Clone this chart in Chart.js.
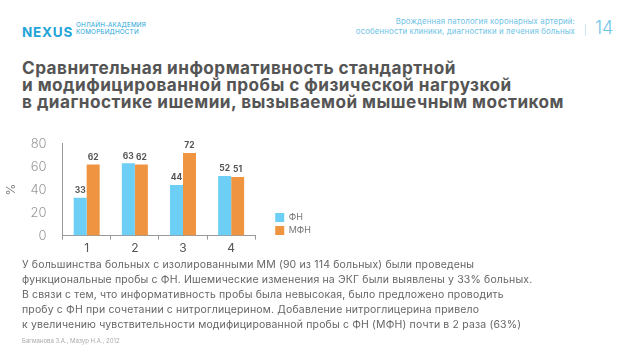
<!DOCTYPE html>
<html>
<head>
<meta charset="utf-8">
<script src="https://cdn.jsdelivr.net/npm/chart.js@4"></script>
<style>
  body { margin: 0; width: 640px; height: 360px; background: #fff; position: relative; overflow: hidden; font-family: Inter, "Open Sans", sans-serif; }
  .logo { position: absolute; left: 22px; top: 24px; color: #23a4d8; font: 700 13.5px Inter, sans-serif; letter-spacing: 0.8px; }
  .logo-sub { position: absolute; left: 76px; top: 22px; color: #23a4d8; font: 400 6.3px/7px Inter, sans-serif; letter-spacing: 0.2px; }
  .topic { position: absolute; right: 65px; top: 16px; text-align: right; color: #6fc3e6; font: 400 7.8px/10px Inter, sans-serif; letter-spacing: 0.15px; }
  .sep { position: absolute; left: 585px; top: 24px; width: 1px; height: 12px; background: #cde9f5; }
  .page { position: absolute; left: 595px; top: 17px; color: #6fc3e6; font: 300 18px Inter, sans-serif; }
  h1 { position: absolute; left: 22px; top: 59px; margin: 0; color: #555; font: 700 17.2px/17px Inter, sans-serif; letter-spacing: 0.45px; }
  .body { position: absolute; left: 22px; top: 257px; color: #666; font: 400 10.5px/15.1px Inter, sans-serif; letter-spacing: 0.15px; }
  .cite { position: absolute; left: 22px; top: 337px; color: #aaa; font: 400 6px Inter, sans-serif; }
  #chart-wrap { position: absolute; left: 0px; top: 128px; width: 330px; height: 130px; }
</style>
</head>
<body>
<div class="logo">NEXUS</div>
<div class="logo-sub">ОНЛАЙН-АКАДЕМИЯ<br>КОМОРБИДНОСТИ</div>
<div class="topic">Врожденная патология коронарных артерий:<br>особенности клиники, диагностики и лечения больных</div>
<div class="sep"></div>
<div class="page">14</div>
<h1>Сравнительная информативность стандартной<br>и модифицированной пробы с физической нагрузкой<br>в диагностике ишемии, вызываемой мышечным мостиком</h1>
<div id="chart-wrap"><canvas id="chart"></canvas></div>
<div class="body">У большинства больных с изолированными ММ (90 из 114 больных) были проведены<br>функциональные пробы с ФН. Ишемические изменения на ЭКГ были выявлены у 33% больных.<br>В связи с тем, что информативность пробы была невысокая, было предложено проводить<br>пробу с ФН при сочетании с нитроглицерином. Добавление нитроглицерина привело<br>к увеличению чувствительности модифицированной пробы с ФН (МФН) почти в 2 раза (63%)</div>
<div class="cite">Багманова З.А., Мазур Н.А., 2012</div>

<script>
const categories = ['1', '2', '3', '4'];
const fnValues = [33, 63, 44, 52];
const mfnValues = [62, 62, 72, 51];
const yTicks = [0, 20, 40, 60, 80];

// draws the value above each bar
const valueLabels = {
    id: 'valueLabels',
    afterDatasetsDraw(chart) {
        const ctx = chart.ctx;
        ctx.save();
        ctx.font = '700 8.5px Inter, sans-serif';
        ctx.fillStyle = '#555';
        ctx.textAlign = 'center';
        ctx.textBaseline = 'bottom';
        chart.data.datasets.forEach((ds, i) => {
            chart.getDatasetMeta(i).data.forEach((bar, j) => {
                ctx.fillText(ds.data[j], bar.x, bar.y - 3);
            });
        });
        ctx.restore();
    }
};

// nudge the legend away from the plot, like on the slide
const legendShift = {
    id: 'legendShift',
    afterLayout(chart) {
        const lg = chart.legend;
        lg.left += 16; lg.right += 16;
        lg.top -= 19; lg.bottom -= 19;
    }
};

new Chart(document.getElementById('chart'), {
    type: 'bar',
    data: {
        labels: categories,
        datasets: [
            { label: 'ФН', data: fnValues, backgroundColor: '#6dcff6' },
            { label: 'МФН', data: mfnValues, backgroundColor: '#ef9440' }
        ]
    },
    options: {
        responsive: true,
        maintainAspectRatio: false,
        animation: false,
        datasets: { bar: { categoryPercentage: 0.54, barPercentage: 1 } },
        layout: { padding: { top: 10, right: 25, bottom: 0 } },
        plugins: {
            legend: {
                position: 'right',
                align: 'end',
                labels: { boxWidth: 9, boxHeight: 9, padding: 4, color: '#777', font: { size: 9, family: 'Inter' } }
            },
            tooltip: { enabled: false }
        },
        scales: {
            x: {
                grid: { display: true, drawOnChartArea: false, color: '#999', tickLength: 4, offset: true },
                border: { color: '#999' },
                ticks: { color: '#555', font: { size: 12, family: 'Inter' }, padding: 2 }
            },
            y: {
                min: 0,
                max: 80,
                afterBuildTicks: axis => { axis.ticks = yTicks.map(v => ({ value: v })); },
                grid: { display: false },
                border: { color: '#999' },
                title: { display: true, text: '%', color: '#888', font: { size: 12, family: 'Inter' }, padding: 4 },
                ticks: { color: '#999', font: { size: 13, family: 'Inter', weight: 300 }, padding: 8 }
            }
        }
    },
    plugins: [valueLabels, legendShift]
});
</script>
</body>
</html>
